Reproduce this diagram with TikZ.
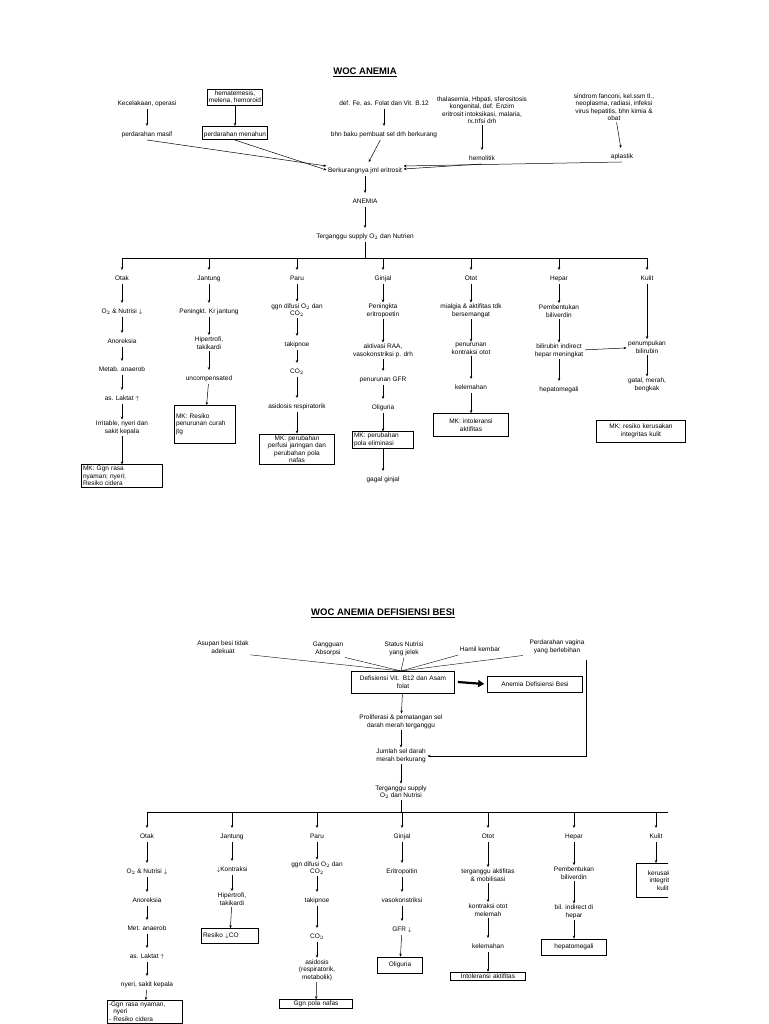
\documentclass[tikz,border=0pt]{standalone}
\usepackage{fontspec}
\setmainfont{Liberation Sans}
\usetikzlibrary{arrows.meta}
\begin{document}
\begin{tikzpicture}[x=1pt,y=-1pt,
  t/.style={font=\fontsize{6.5}{7.5}\selectfont, align=center, inner sep=1.5pt},
  h/.style={t, text height=1.6ex, text depth=.4ex},
  bx/.style={t, draw, line width=0.6pt},
  bl/.style={bx, align=left},
  a/.style={-{Stealth[length=3pt,width=2.5pt]}, line width=0.5pt},
  ttl/.style={font=\bfseries\fontsize{9.5}{11}\selectfont}]
\useasboundingbox (0,0) rectangle (768,1024);
\fill[white] (0,0) rectangle (768,1024);
% ===== Top =====
\node[ttl] (T1) at (365,72) {\underline{WOC ANEMIA}};
\node[h] (k1) at (147,102) {Kecelakaan, operasi};
\node[h] (k2) at (147,133) {perdarahan masif};
\node[bx] (h1) at (235,97) {hematemesis,\\melena, hemoroid};
\node[bx, text height=1.6ex, text depth=.4ex] (h2) at (235,133) {perdarahan menahun};
\node[h] (d1) at (384,102) {def. Fe, as. Folat dan Vit. B.12};
\node[h] (d2) at (384,133) {bhn baku pembuat sel drh berkurang};
\node[t] (th) at (482,110) {thalasemia, Hbpati, sferositosis\\kongenital, def. Enzim\\eritrosit intoksikasi, malaria,\\rx.trfsi drh};
\node[t] (sf) at (614,107) {sindrom fanconi, kel.ssm tl.,\\neoplasma, radiasi, infeksi\\virus hepatitis, bhn kimia \&\\obat};
\node[h] (hm) at (482,157) {hemolitik};
\node[h] (ap) at (622,155) {aplastik};
\node[h] (br) at (365,169) {Berkurangnya jml eritrosit};
\node[h] (an) at (365,200) {ANEMIA};
\node[h] (tg) at (365,235) {Terganggu supply O$_2$ dan Nutrien};
\coordinate (bar1) at (365,258);
\draw[a] (k1) -- (k2);
\draw[a] (h1) -- (h2);
\draw[a] (d1) -- (d2);
\draw[a] (th) -- (hm);
\draw[a] (sf) -- (ap);
\draw[a] (k2.south) -- ([yshift=3]br.west);
\draw[a] (h2.south) -- ([yshift=-1]br.west);
\draw[a] (d2) -- (br);
\draw[a] (hm.south) -- ([yshift=0]br.east);
\draw[a] (ap.south) -- ([yshift=3]br.east);
\draw[a] (br) -- (an);
\draw[a] (an) -- (tg);
\draw (tg) -- (bar1);
\draw[line width=0.6pt] (122,258) -- (647,258);
\foreach \x/\n in {122/Otak,209/Jantung,297/Paru,383/Ginjal,471/Otot,559/Hepar,647/Kulit}
  {\node[h] (c\n) at (\x,277) {\n}; \draw[a] (\x,258) -- (c\n);}
% Otak
\node[h] (o1) at (122,310) {O$_2$ \& Nutrisi $\downarrow$};
\node[h] (o2) at (122,340) {Anoreksia};
\node[h] (o3) at (122,368) {Metab. anaerob};
\node[h] (o4) at (122,397) {as. Laktat $\uparrow$};
\node[t] (o5) at (122,428) {Irritable, nyeri dan\\sakit kepala};
\node[bl, text width=78pt] (o6) at (122,476) {MK: Ggn rasa\\nyaman; nyeri;\\Resiko cidera};
\draw[a] (cOtak) -- (o1); \draw[a] (o1) -- (o2); \draw[a] (o2) -- (o3);
\draw[a] (o3) -- (o4); \draw[a] (o4) -- (o5); \draw[a] (o5) -- (o6);
% Jantung
\node[h] (j1) at (209,310) {Peningkt. Kr jantung};
\node[t] (j2) at (209,343) {Hipertrofi,\\takikardi};
\node[h] (j3) at (209,377) {uncompensated};
\node[bl, text width=58pt, minimum height=38pt, anchor=north] (j4) at (205,405) {MK: Resiko\\penurunan curah\\jtg};
\draw[a] (cJantung) -- (j1); \draw[a] (j1) -- (j2); \draw[a] (j2) -- (j3); \draw[a] (j3) -- (j4);
% Paru
\node[t] (p1) at (297,310) {ggn difusi O$_2$ dan\\CO$_2$};
\node[h] (p2) at (297,343) {takipnoe};
\node[h] (p3) at (297,370) {CO$_2$};
\node[h] (p4) at (297,405) {asidosis respiratorik};
\node[bx, text width=72pt] (p5) at (297,449) {MK: perubahan\\perfusi jaringan dan\\perubahan pola\\nafas};
\draw[a] (cParu) -- (p1); \draw[a] (p1) -- (p2); \draw[a] (p2) -- (p3); \draw[a] (p3) -- (p4); \draw[a] (p4) -- (p5);
% Ginjal
\node[t] (g1) at (383,311) {Peningkta\\eritropoetin};
\node[t] (g2) at (383,351) {aktivasi RAA,\\vasokonstriksi p. drh};
\node[h] (g3) at (383,378) {penurunan GFR};
\node[h] (g4) at (383,406) {Oliguria};
\node[bl, text width=58pt] (g5) at (383,440) {MK: perubahan\\pola eliminasi};
\node[h] (g6) at (383,478) {gagal ginjal};
\draw[a] (cGinjal) -- (g1); \draw[a] (g1) -- (g2); \draw[a] (g2) -- (g3); \draw[a] (g3) -- (g4); \draw[a] (g4) -- (g5); \draw[a] (g5) -- (g6);
% Otot
\node[t] (m1) at (471,311) {mialgia \& aktifitas tdk\\bersemangat};
\node[t] (m2) at (471,349) {penurunan\\kontraksi otot};
\node[h] (m3) at (471,386) {kelemahan};
\node[bx, text width=72pt, minimum height=23pt] (m4) at (471,425) {MK: intoleransi\\aktifitas\\[4pt]};
\draw[a] (cOtot) -- (m1); \draw[a] (m1) -- (m2); \draw[a] (m2) -- (m3); \draw[a] (m3) -- (m4);
% Hepar
\node[t] (e1) at (559,311) {Pembentukan\\biliverdin};
\node[t] (e2) at (559,351) {bilirubin indirect\\hepar meningkat};
\node[h] (e3) at (559,388) {hepatomegali};
\draw[a] (cHepar) -- (e1); \draw[a] (e1) -- (e2); \draw[a] (e2) -- (e3);
% Kulit
\node[t] (u1) at (647,347) {penumpukan\\bilirubin};
\node[t] (u2) at (647,385) {gatal, merah,\\bengkak};
\node[bx, text width=86pt, minimum height=22pt] (u3) at (641,431) {MK: resiko kerusakan\\integritas kulit\\[3pt]};
\draw[a] (cKulit) -- (u1); \draw[a] (u1) -- (u2); \draw[a] (e2) -- (u1);
% ===== Bottom =====
\node[ttl] (T2) at (383,613) {\underline{WOC ANEMIA DEFISIENSI BESI}};
\node[t] (b1) at (223,647) {Asupan besi tidak\\adekuat};
\node[t] (b2) at (328,649) {Gangguan\\Absorpsi};
\node[t] (b3) at (404,649) {Status Nutrisi\\yang jelek};
\node[h] (b4) at (480,648) {Hamil kembar};
\node[t] (b5) at (557,647) {Perdarahan vagina\\yang berlebihan};
\node[bx, text width=100pt, minimum height=22pt] (df) at (403,682) {Defisiensi Vit. B12 dan Asam\\folat\\[3pt]};
\node[bx, text width=92pt, minimum height=16pt] (adb) at (535,684) {Anemia Defisiensi Besi\\[3pt]};
\coordinate (dtop) at (401,671);
\draw (b1.south east) -- (dtop);
\draw (b2.south east) -- (dtop);
\draw (b3.south) -- (dtop);
\draw (b4.south west) -- (dtop);
\draw ([xshift=-5]b5.south west) -- (dtop);
\draw[-{Triangle[length=6pt,width=7pt]}, line width=2.2pt] ([xshift=3]df.east) -- ([xshift=-3]adb.west);
\node[t] (pr) at (401,722) {Proliferasi \& pematangan sel\\darah merah terganggu};
\node[t] (jm) at (401,756) {Jumlah sel darah\\merah berkurang};
\node[t] (tb) at (401,792) {Terganggu supply\\O$_2$ dan Nutrisi};
\coordinate (v1) at (597,660);
\draw[a] (b5.south east |- v1) |- (jm.east);
\draw[a] (df) -- (pr); \draw[a] (pr) -- (jm); \draw[a] (jm) -- (tb);
\draw (tb) -- (401,812);
\begin{scope}
\clip (0,800) rectangle (668,1024);
\draw[line width=0.6pt] (147,812) -- (668,812);
\foreach \x/\n in {147/Otak,232/Jantung,317/Paru,402/Ginjal,488/Otot,574/Hepar,656/Kulit}
  {\node[h] (d\n) at (\x,835) {\n}; \draw[a] (\x,812) -- (d\n);}
% Otak
\node[h] (oo1) at (147,870) {O$_2$ \& Nutrisi $\downarrow$};
\node[h] (oo2) at (147,899) {Anoreksia};
\node[h] (oo3) at (147,927) {Met. anaerob};
\node[h] (oo4) at (147,955) {as. Laktat $\uparrow$};
\node[h] (oo5) at (147,983) {nyeri, sakit kepala};
\node[bl, text width=72pt, anchor=north] (oo6) at (145,1000) {-Ggn rasa nyaman,\\\ \ nyeri\\- Resiko cidera};
\draw[a] (dOtak) -- (oo1); \draw[a] (oo1) -- (oo2); \draw[a] (oo2) -- (oo3); \draw[a] (oo3) -- (oo4); \draw[a] (oo4) -- (oo5); \draw[a] (oo5) -- (oo6);
% Jantung
\node[h] (jj1) at (232,868) {$\downarrow$Kontraksi};
\node[t] (jj2) at (232,899) {Hipertrofi,\\takikardi};
\node[bl, text width=54pt, minimum height=15pt] (jj3) at (230,936) {Resiko $\downarrow$CO\\[2pt]};
\draw[a] (dJantung) -- (jj1); \draw[a] (jj1) -- (jj2); \draw[a] (jj2) -- (jj3);
% Paru
\node[t] (pp1) at (317,868) {ggn difusi O$_2$ dan\\CO$_2$};
\node[h] (pp2) at (317,899) {takipnoe};
\node[h] (pp3) at (317,935) {CO$_2$};
\node[t] (pp4) at (317,970) {asidosis\\(respiratorik,\\metabolik)};
\node[bx, text width=70pt] (pp5) at (316,1004) {Ggn pola nafas};
\draw[a] (dParu) -- (pp1); \draw[a] (pp1) -- (pp2); \draw[a] (pp2) -- (pp3); \draw[a] (pp3) -- (pp4); \draw[a] (pp4) -- (pp5);
% Ginjal
\node[h] (gg1) at (402,870) {Eritropoitin};
\node[h] (gg2) at (402,899) {vasokonstriksi};
\node[h] (gg3) at (402,928) {GFR $\downarrow$};
\node[bx, text width=42pt, minimum height=16pt] (gg4) at (400,965) {Oliguria\\[3pt]};
\draw[a] (dGinjal) -- (gg1); \draw[a] (gg1) -- (gg2); \draw[a] (gg2) -- (gg3); \draw[a] (gg3) -- (gg4);
% Otot
\node[t] (mm1) at (488,875) {terganggu aktifitas\\\& mobilisasi};
\node[t] (mm2) at (488,910) {kontraksi otot\\melemah};
\node[h] (mm3) at (488,945) {kelemahan};
\node[bx, text width=72pt] (mm4) at (488,976) {Intoleransi aktifitas};
\draw[a] (dOtot) -- (mm1); \draw[a] (mm1) -- (mm2); \draw[a] (mm2) -- (mm3); \draw[a] (mm3) -- (mm4);
% Hepar
\node[t] (ee1) at (574,873) {Pembentukan\\biliverdin};
\node[t] (ee2) at (574,912) {bil. indirect di\\hepar};
\node[bx, text width=62pt, minimum height=16pt] (ee3) at (574,947) {hepatomegali\\[3pt]};
\draw[a] (dHepar) -- (ee1); \draw[a] (ee1) -- (ee2); \draw[a] (ee2) -- (ee3);
% Kulit
\node[bx, text width=50pt, minimum height=34pt, anchor=north west] (uu1) at (636,863) {kerusakan\\integritas\\kulit};
\draw[a] (dKulit) -- (dKulit |- uu1.north);
\end{scope}
\end{tikzpicture}
\end{document}
